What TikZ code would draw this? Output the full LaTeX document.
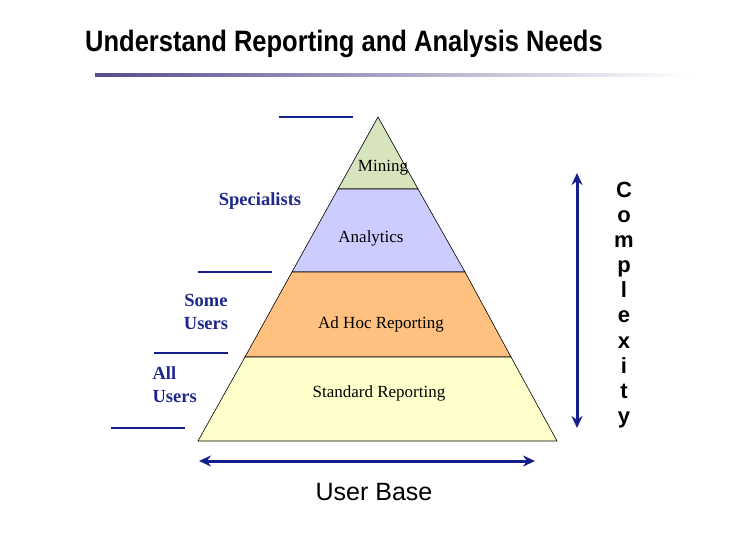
\documentclass[tikz,border=0pt]{standalone}
\usepackage{fontspec}
\setmainfont{Liberation Serif}
\newfontfamily\titlefont[FakeStretch=0.865]{Liberation Sans}
\newfontfamily\arialfont{Liberation Sans}
\usetikzlibrary{arrows.meta}
\definecolor{navyline}{RGB}{22,30,140}
\definecolor{labelblue}{RGB}{30,40,140}
\definecolor{rulepurple}{RGB}{90,75,140}
\definecolor{mininggreen}{RGB}{215,228,189}
\definecolor{analyticsblue}{RGB}{204,204,255}
\definecolor{adhocorange}{RGB}{255,192,128}
\definecolor{standardyellow}{RGB}{255,255,204}

\begin{document}
\begin{tikzpicture}[x=1pt,y=-1pt,
  layer/.style={draw=black,line width=0.6pt},
  layertext/.style={font=\fontsize{17}{19}\selectfont},
  usertext/.style={text=labelblue,font=\bfseries\fontsize{18.5}{23}\selectfont},
  tierline/.style={draw=navyline,line width=2pt},
  bluearrow/.style={draw=navyline,line width=3pt,{Stealth[length=12pt,width=11pt,inset=4pt]}-{Stealth[length=12pt,width=11pt,inset=4pt]}}]
\useasboundingbox (0,0) rectangle (744,559);
\fill[white] (0,0) rectangle (744,559);
\node[anchor=west,font=\titlefont\bfseries\fontsize{29.5}{32}\selectfont,inner sep=0] (title) at (85,44) {Understand Reporting and Analysis Needs};
\shade[left color=rulepurple,right color=white] (95,73.5) rectangle (690,76.5);
\filldraw[layer,fill=mininggreen] (378,117) -- (418,189) -- (338,189) -- cycle;
\filldraw[layer,fill=analyticsblue] (338,189) -- (418,189) -- (465,272) -- (292,272) -- cycle;
\filldraw[layer,fill=adhocorange] (292,272) -- (465,272) -- (511,357) -- (245,357) -- cycle;
\filldraw[layer,fill=standardyellow] (245,357) -- (511,357) -- (557,441) -- (198,441) -- cycle;
\node[layertext] (mining) at (383,168) {Mining};
\node[layertext] (analytics) at (371,238) {Analytics};
\node[layertext] (adhoc) at (381,324) {Ad Hoc Reporting};
\node[layertext] (standard) at (379,393) {Standard Reporting};
\draw[tierline] (279,117) -- (353,117);
\draw[tierline] (198,272) -- (272,272);
\draw[tierline] (154,353) -- (228,353);
\draw[tierline] (111,428) -- (185,428);
\node[usertext] (specialists) at (260,201) {Specialists};
\node[usertext,align=center] (someusers) at (206,312) {Some\\ Users};
\node[usertext,align=left,anchor=west] (allusers) at (149,385) {All\\Users};
\coordinate (cx top) at (577,173);
\coordinate (cx bottom) at (577,428);
\draw[bluearrow] (cx top) -- (cx bottom);
\node[align=center,font=\arialfont\bfseries\fontsize{22}{25.1}\selectfont] (complexity) at (624,305) {C\\o\\m\\p\\l\\e\\x\\i\\t\\y};
\coordinate (ub west) at (199,461);
\coordinate (ub east) at (535,461);
\draw[bluearrow] (ub west) -- (ub east);
\node[font=\arialfont\fontsize{25}{28}\selectfont] (userbase) at (374,492) {User Base};
\end{tikzpicture}
\end{document}
